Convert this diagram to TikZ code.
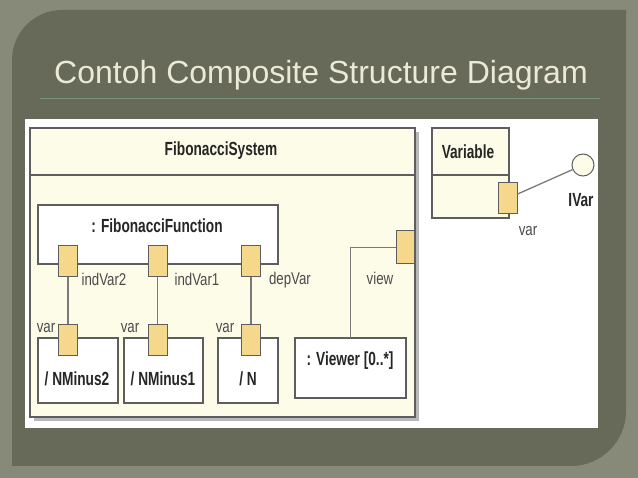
\documentclass[tikz,border=0pt]{standalone}
\usepackage{fontspec}
\setmainfont{Liberation Sans}
\newfontfamily\narrowb[FakeStretch=0.72]{Liberation Sans}
\newfontfamily\narrowr[FakeStretch=0.78]{Liberation Sans}
\definecolor{outerbg}{HTML}{878A78}
\definecolor{panelc}{HTML}{676959}
\definecolor{titlec}{HTML}{ECEAD6}
\definecolor{rulec}{HTML}{78957A}
\definecolor{ylw}{HTML}{FCFCE8}
\definecolor{portc}{HTML}{F6D88C}
\definecolor{boxc}{HTML}{5E5E5E}
\definecolor{linec}{HTML}{7A7A7A}
\definecolor{lblc}{HTML}{4A4A4A}
\begin{document}
\begin{tikzpicture}[x=1pt,y=-1pt,
 box/.style={draw=boxc, line width=1.3pt, inner sep=0pt, outer sep=0pt},
 port/.style={draw=boxc, fill=portc, line width=1pt, minimum width=19pt, minimum height=31pt, inner sep=0pt},
 bname/.style={font=\narrowb\fontsize{19}{21}\selectfont\bfseries, text=black!85, inner sep=0pt},
 lbl/.style={font=\narrowr\fontsize{17}{19}\selectfont, text=lblc, inner sep=0pt},
 conn/.style={draw=linec, line width=1.3pt}]
\useasboundingbox (0,0) rectangle (638,478);
\fill[outerbg] (0,0) rectangle (638,478);
\fill[panelc] (12,466) [rounded corners=50pt] -- (12,10) -- (330,10) [sharp corners] -- (626,10) [rounded corners=55pt] -- (626,466) -- (300,466) [sharp corners] -- cycle;
\node[font=\fontsize{32}{36}\selectfont, text=titlec, inner sep=0pt] (title) at (321,75) {Contoh Composite Structure Diagram};
\draw[rulec, line width=1pt] (40,99) -- (600,99);
\fill[white] (25,119) rectangle (598,428);

% FibonacciSystem
\fill[black!28] (34,132) rectangle (419,421);
\node[box, fill=ylw, minimum width=385pt, minimum height=289pt] (sys) at (222.5,272.5) {};
\draw[boxc, line width=1.3pt] (30,175) -- (415,175);
\node[bname] (systitle) at (221,151) {FibonacciSystem};

% FibonacciFunction
\node[box, fill=white, minimum width=240pt, minimum height=59pt] (ff) at (158,234.5) {};
\node[bname] (fflabel) at (157,226) {: FibonacciFunction};

% upper ports
\node[port] (p1) at (68,261.5) {};
\node[port] (p2) at (157.5,261.5) {};
\node[port] (p3) at (251,261.5) {};
\node[lbl] (l1) at (104,279) {indVar2};
\node[lbl] (l2) at (197,279) {indVar1};
\node[lbl] (l3) at (290,280) {depVar};

% lower boxes
\node[box, fill=white, minimum width=80pt, minimum height=65pt] (nm2) at (78,370.5) {};
\node[box, fill=white, minimum width=79pt, minimum height=65pt] (nm1) at (163.5,370.5) {};
\node[box, fill=white, minimum width=60pt, minimum height=65pt] (nn) at (248,370.5) {};
\node[box, fill=white, minimum width=111pt, minimum height=60pt] (viewer) at (350.5,368) {};
\node[bname] (nm2l) at (77,379) {/ NMinus2};
\node[bname] (nm1l) at (163,379) {/ NMinus1};
\node[bname] (nnl) at (248,379) {/ N};
\node[bname] (viewerl) at (350,361) {: Viewer [0..*]};

% lower ports
\node[port] (q1) at (68,340) {};
\node[port] (q2) at (157.5,340) {};
\node[port] (q3) at (251,340) {};
\node[lbl] (v1) at (46,328) {var};
\node[lbl] (v2) at (130,328) {var};
\node[lbl] (v3) at (225,328) {var};

\draw[conn] (p1.south) -- (q1.north);
\draw[conn] (p2.south) -- (q2.north);
\draw[conn] (p3.south) -- (q3.north);

% view port
\node[port, minimum width=18pt, minimum height=33pt] (vp) at (405,247.5) {};
\draw[conn] (vp.west) -| (viewer.north);
\node[lbl] (vl) at (380,278) {view};

% Variable
\node[box, fill=ylw, minimum width=77pt, minimum height=90pt] (varbox) at (470.5,173) {};
\draw[boxc, line width=1.3pt] (432,175) -- (509,175);
\node[bname] (varl) at (468,152) {Variable};
\node[port] (vport) at (507.5,198.5) {};
\node[circle, draw=boxc, fill=ylw, line width=1pt, minimum size=22pt, inner sep=0pt] (ivar) at (583,165) {};
\draw[conn] (vport) -- (ivar);
\node[bname] (ivarl) at (581,200) {IVar};
\node[lbl] (vportl) at (528,231) {var};
\end{tikzpicture}
\end{document}
